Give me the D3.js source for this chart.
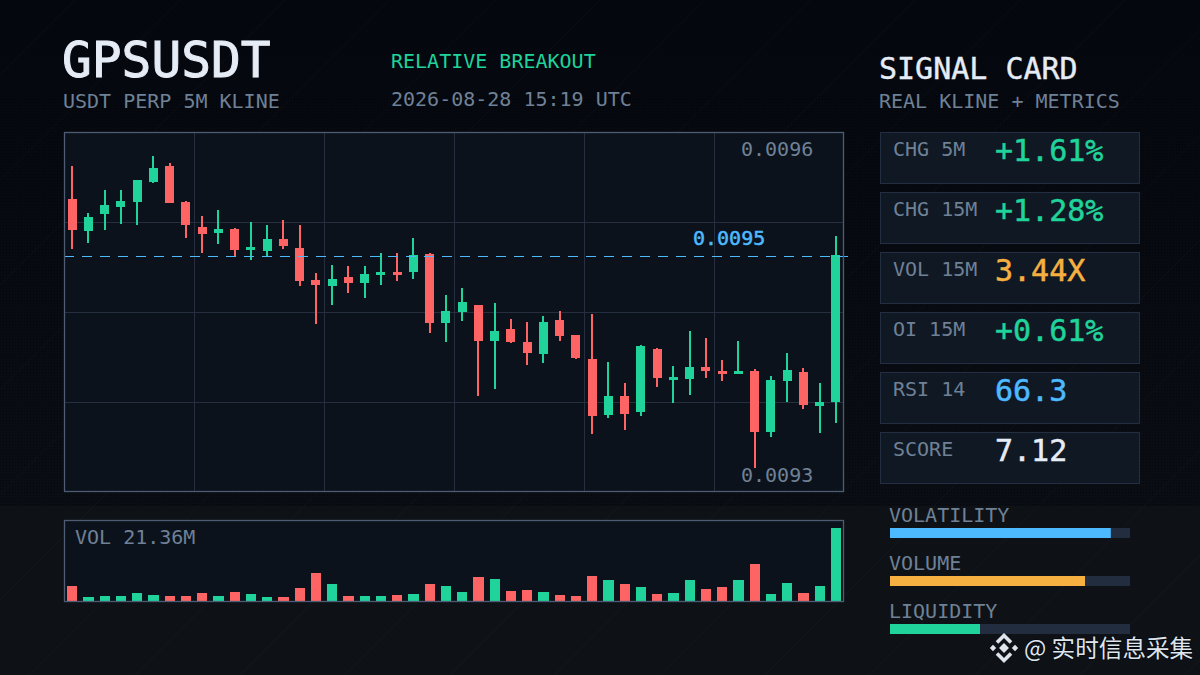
<!DOCTYPE html>
<html>
<head>
<meta charset="utf-8">
<script src="https://cdn.jsdelivr.net/npm/d3@7"></script>
<style>
html, body { margin: 0; padding: 0; background: #05080f; overflow: hidden; }
text { font-family: "DejaVu Sans Mono", monospace; }
</style>
</head>
<body>
<script>
// candle data
const opens = [0.009557,0.009525,0.009542,0.009549,0.009554,0.009574,0.009590,0.009554,0.009529,0.009523,0.009527,0.009506,
  0.009505,0.009517,0.009508,0.009476,0.009470,0.009479,0.009473,0.009481,0.009484,0.009484,0.009502,0.009433,
  0.009444,0.009451,0.009415,0.009427,0.009414,0.009402,0.009436,0.009421,0.009397,0.009341,0.009360,0.009344,
  0.009407,0.009376,0.009377,0.009389,0.009385,0.009382,0.009385,0.009324,0.009375,0.009384,0.009350,0.009354];
const highs = [0.009590,0.009543,0.009566,0.009566,0.009576,0.009600,0.009593,0.009555,0.009540,0.009546,0.009528,0.009534,
  0.009531,0.009536,0.009531,0.009483,0.009491,0.009490,0.009490,0.009503,0.009503,0.009518,0.009503,0.009461,
  0.009468,0.009451,0.009453,0.009437,0.009434,0.009440,0.009445,0.009421,0.009442,0.009394,0.009373,0.009411,
  0.009408,0.009390,0.009425,0.009418,0.009396,0.009415,0.009387,0.009380,0.009403,0.009388,0.009373,0.009520];
const lows = [0.009507,0.009513,0.009526,0.009532,0.009531,0.009573,0.009553,0.009518,0.009503,0.009512,0.009499,0.009496,
  0.009500,0.009507,0.009470,0.009432,0.009451,0.009463,0.009458,0.009471,0.009475,0.009477,0.009423,0.009414,
  0.009435,0.009360,0.009367,0.009413,0.009391,0.009393,0.009415,0.009397,0.009322,0.009338,0.009326,0.009340,
  0.009369,0.009353,0.009361,0.009378,0.009375,0.009382,0.009288,0.009319,0.009354,0.009347,0.009323,0.009333];
const closes = [0.009526,0.009539,0.009551,0.009555,0.009576,0.009588,0.009553,0.009531,0.009522,0.009527,0.009506,0.009509,
  0.009517,0.009510,0.009475,0.009471,0.009477,0.009473,0.009482,0.009484,0.009481,0.009501,0.009433,0.009445,
  0.009454,0.009415,0.009425,0.009414,0.009403,0.009434,0.009420,0.009398,0.009340,0.009360,0.009342,0.009410,
  0.009378,0.009379,0.009389,0.009385,0.009382,0.009385,0.009324,0.009376,0.009386,0.009351,0.009354,0.009501];
// volume in millions
const volumes = [4.39,1.17,1.46,1.46,2.34,1.76,1.46,1.46,2.34,1.46,2.63,2.05,
  1.17,1.17,3.80,8.19,4.97,1.46,1.46,1.46,1.76,2.05,4.97,4.39,
  2.63,7.02,6.44,2.93,3.22,2.63,1.76,1.46,7.31,6.14,4.97,4.10,
  2.05,2.34,6.14,3.51,4.10,6.14,10.83,2.05,5.27,2.34,4.39,21.36];
const lastPrice = 0.0095;
const priceLabels = ["0.0096", "0.0095", "0.0093"];

const cardLabels = ["CHG 5M", "CHG 15M", "VOL 15M", "OI 15M", "RSI 14", "SCORE"];
const cardValues = ["+1.61%", "+1.28%", "3.44X", "+0.61%", "66.3", "7.12"];
const cardColors = ["#1fd39a", "#1fd39a", "#f5b041", "#1fd39a", "#4dbaff", "#e6ecf5"];

const meterLabels = ["VOLATILITY", "VOLUME", "LIQUIDITY"];
const meterValues = [0.92, 0.8125, 0.375];
const meterColors = ["#4dbaff", "#f5b041", "#1fd39a"];

const green = "#1fd39a", red = "#ff6464", grey = "#6f8196", white = "#e6ecf5";

const svg = d3.select("body").append("svg")
  .attr("width", 1200)
  .attr("height", 675)
  .style("display", "block");

// background: dark dithered upper part, flat lower part
const defs = svg.append("defs");
const bg = defs.append("linearGradient").attr("id", "bg").attr("x1", 0).attr("y1", 0).attr("x2", 0).attr("y2", 1);
bg.append("stop").attr("offset", "0%").attr("stop-color", "#04070e");
bg.append("stop").attr("offset", "100%").attr("stop-color", "#0a0d13");
const dots = defs.append("pattern").attr("id", "dots").attr("width", 3).attr("height", 3).attr("patternUnits", "userSpaceOnUse");
dots.append("rect").attr("width", 1).attr("height", 1).attr("fill", "#000").attr("fill-opacity", 0.45);
svg.append("rect").attr("width", 1200).attr("height", 675).attr("fill", "#0e1217");
svg.append("rect").attr("width", 1200).attr("height", 506).attr("fill", "url(#bg)");
svg.append("rect").attr("y", 94).attr("width", 1200).attr("height", 412).attr("fill", "url(#dots)");

// faint diagonal lines
svg.append("g").selectAll("line")
  .data(d3.range(-600, 1300, 105))
  .join("line")
  .attr("x1", d => d)
  .attr("y1", 675)
  .attr("x2", d => d + 675)
  .attr("y2", 0)
  .attr("stroke", "#ffffff")
  .attr("stroke-opacity", 0.022);

// header text
function label(g, str, x, y, size, color, thick) {
  return g.append("text")
    .attr("x", x).attr("y", y)
    .attr("font-size", size)
    .attr("fill", color)
    .attr("stroke", thick ? color : "none")
    .attr("stroke-width", thick || 0)
    .attr("xml:space", "preserve")
    .text(str);
}
label(svg, "GPSUSDT", 62, 77, 49.5, white, 1);
label(svg, "USDT PERP 5M KLINE", 63, 108, 20, grey);
label(svg, "RELATIVE BREAKOUT", 391, 68, 20, green);
label(svg, "2026-08-28 15:19 UTC", 391, 106, 20, grey);
label(svg, "SIGNAL CARD", 879, 79, 30, white, 0.4);
label(svg, "REAL KLINE + METRICS", 879, 108, 20, grey);

// scales
const x = d3.scaleBand().domain(d3.range(opens.length)).range([64, 844]);
const y = d3.scaleLinear().domain([0.009264, 0.009624]).range([492, 132]);
const yVol = d3.scaleLinear().domain([0, 21.36]).range([601, 528]);
const gridX = d3.scaleLinear().domain([0, 6]).range([64, 844]);
const gridY = d3.scaleLinear().domain([0, 4]).range([132, 492]);
const candleColor = i => closes[i] >= opens[i] ? green : red;

// price panel
svg.append("rect")
  .attr("x", 64.5).attr("y", 132.5).attr("width", 779).attr("height", 359)
  .attr("fill", "#0b121c");

const grid = svg.append("g").attr("stroke", "#252f40").attr("stroke-width", 1).attr("shape-rendering", "crispEdges");
grid.selectAll(".v").data([1, 2, 3, 4, 5]).join("line").attr("class", "v")
  .attr("x1", d => gridX(d)).attr("x2", d => gridX(d)).attr("y1", 132).attr("y2", 492);
grid.selectAll(".h").data([1, 2, 3]).join("line").attr("class", "h")
  .attr("y1", d => gridY(d)).attr("y2", d => gridY(d)).attr("x1", 64).attr("x2", 844);

// candles
const candles = svg.append("g").attr("shape-rendering", "crispEdges");
candles.selectAll(".wick").data(d3.range(opens.length)).join("rect").attr("class", "wick")
  .attr("x", i => Math.round(x(i) + 7))
  .attr("width", 2)
  .attr("y", i => y(highs[i]))
  .attr("height", i => y(lows[i]) - y(highs[i]))
  .attr("fill", candleColor);
candles.selectAll(".body").data(d3.range(opens.length)).join("rect").attr("class", "body")
  .attr("x", i => Math.floor(x(i) + 4))
  .attr("width", 9)
  .attr("y", i => y(Math.max(opens[i], closes[i])))
  .attr("height", i => Math.abs(y(opens[i]) - y(closes[i])))
  .attr("fill", candleColor);

// last price line
svg.append("line")
  .attr("x1", 64).attr("x2", 849)
  .attr("y1", Math.round(y(lastPrice)) + 0.5).attr("y2", Math.round(y(lastPrice)) + 0.5)
  .attr("stroke", "#4dbaff")
  .attr("stroke-dasharray", "10 8");

svg.append("rect")
  .attr("x", 64.5).attr("y", 132.5).attr("width", 779).attr("height", 359)
  .attr("fill", "none").attr("stroke", "#4d5c72").attr("stroke-width", 1.3);

label(svg, priceLabels[0], 741, 156, 20, grey);
label(svg, priceLabels[1], 693, 245, 20, "#4dbaff", 0.5);
label(svg, priceLabels[2], 741, 482, 20, grey);

// volume panel
svg.append("rect")
  .attr("x", 64.5).attr("y", 520.5).attr("width", 779).attr("height", 81)
  .attr("fill", "#0b121c");
svg.append("g").attr("shape-rendering", "crispEdges")
  .selectAll("rect").data(volumes).join("rect")
  .attr("x", (d, i) => Math.round(x(i) + 3))
  .attr("width", (d, i) => Math.round(x(i) + 13.3) - Math.round(x(i) + 3))
  .attr("y", d => yVol(d))
  .attr("height", d => yVol(0) - yVol(d))
  .attr("fill", (d, i) => candleColor(i));
svg.append("rect")
  .attr("x", 64.5).attr("y", 520.5).attr("width", 779).attr("height", 81)
  .attr("fill", "none").attr("stroke", "#4d5c72").attr("stroke-width", 1.3);
label(svg, "VOL 21.36M", 75, 544, 20, grey);

// signal cards
const cards = svg.append("g").selectAll("g").data(cardLabels).join("g")
  .attr("transform", (d, i) => `translate(880,${132 + i * 60})`);
cards.append("rect")
  .attr("x", 0.5).attr("y", 0.5).attr("width", 259).attr("height", 51)
  .attr("fill", "#101824").attr("stroke", "#232f41");
cards.append("text")
  .attr("x", 13).attr("y", 24).attr("font-size", 20).attr("fill", grey)
  .attr("xml:space", "preserve")
  .text(d => d);
cards.append("text")
  .attr("x", 115).attr("y", 29).attr("font-size", 30)
  .attr("fill", (d, i) => cardColors[i])
  .attr("stroke", (d, i) => cardColors[i])
  .attr("stroke-width", 0.5)
  .text((d, i) => cardValues[i]);

// meters
const meter = d3.scaleLinear().domain([0, 1]).range([0, 240]);
const meters = svg.append("g").selectAll("g").data(meterLabels).join("g")
  .attr("transform", (d, i) => `translate(890,${528 + i * 48})`);
meters.append("text")
  .attr("x", -1).attr("y", -6).attr("font-size", 20).attr("fill", grey)
  .text(d => d);
meters.append("rect")
  .attr("width", meter(1)).attr("height", 10).attr("fill", "#222e40");
meters.append("rect")
  .attr("width", (d, i) => meter(meterValues[i])).attr("height", 10)
  .attr("fill", (d, i) => meterColors[i]);

// watermark
const mark = svg.append("g").attr("transform", "translate(1004,648)").attr("fill", "#dfe5ec");
[[0, 0, 7], [-11, 0, 4.5], [11, 0, 4.5]].forEach(d => {
  mark.append("rect")
    .attr("x", -d[2] / 2).attr("y", -d[2] / 2)
    .attr("width", d[2]).attr("height", d[2])
    .attr("transform", `translate(${d[0]},${d[1]}) rotate(45)`);
});
mark.selectAll("path").data(["M-7,-5.5L0,-12.5L7,-5.5", "M-7,5.5L0,12.5L7,5.5"]).join("path")
  .attr("d", d => d)
  .attr("fill", "none")
  .attr("stroke", "#dfe5ec")
  .attr("stroke-width", 3.6);
svg.append("text")
  .attr("x", 1024).attr("y", 657)
  .attr("font-size", 23.6)
  .attr("fill", "#dfe5ec")
  .style("font-family", '"Noto Sans CJK SC", sans-serif')
  .style("paint-order", "stroke")
  .attr("stroke", "#05080f")
  .attr("stroke-width", 1.5)
  .text("@ 实时信息采集");
</script>
</body>
</html>
